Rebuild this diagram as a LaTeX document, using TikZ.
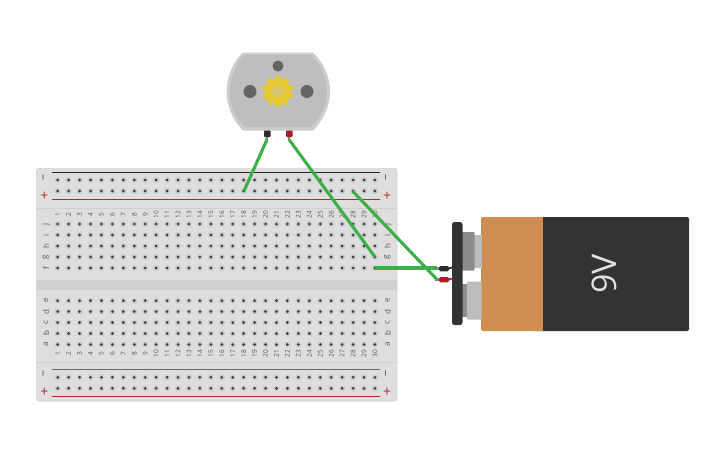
\documentclass[tikz,border=0pt]{standalone}
\usepackage{fontspec}
\setmainfont{Open Sans}
\definecolor{boardc}{HTML}{DEDEDE}
\definecolor{stripc}{HTML}{D0D0D0}
\definecolor{lineg}{HTML}{CFCFCF}
\definecolor{halo}{HTML}{CBCBCB}
\definecolor{holec}{HTML}{3A3A3A}
\definecolor{railred}{HTML}{B5262B}
\definecolor{wire}{HTML}{3DAF49}
\definecolor{motorout}{HTML}{CCCCCC}
\definecolor{motorin}{HTML}{BEBEBE}
\definecolor{motordot}{HTML}{646464}
\definecolor{gear}{HTML}{E9C92F}
\definecolor{hub}{HTML}{D7C56F}
\definecolor{batdark}{HTML}{333333}
\definecolor{batorange}{HTML}{CF8D52}
\definecolor{plugmid}{HTML}{8C8C8C}
\definecolor{pluglight}{HTML}{BCBCBC}
\definecolor{tipg}{HTML}{8A8A8A}
\definecolor{redpin}{HTML}{A81E22}
\definecolor{blackpin}{HTML}{2B2B2B}
\definecolor{labelc}{HTML}{555555}
\tikzset{
  lbl/.style={font=\fontsize{8}{8}\selectfont,text=labelc,rotate=90,inner sep=0pt},
  num/.style={font=\fontsize{6.5}{7}\selectfont,text=labelc,rotate=90,inner sep=0pt},
  plussign/.style={font=\fontsize{14}{14}\selectfont,text=railred,inner sep=0pt},
  minussign/.style={font=\fontsize{12}{12}\selectfont,text=labelc,rotate=90,inner sep=0pt},
  wirestyle/.style={draw=wire,line width=3.1pt},
  lead/.style={line width=1.6pt},
  hole/.pic={\fill[halo] (0,0) circle (3pt);\fill[holec] (0,0) circle (1.5pt);}
}
\begin{document}
\begin{tikzpicture}[x=1pt,y=-1pt]
\useasboundingbox[fill=white] (0,0) rectangle (725,453);
% ---------- breadboard
\fill[boardc,rounded corners=2pt,draw=lineg,line width=.5pt] (36.5,168.5) rectangle (397,401);
\fill[stripc] (36.5,280) rectangle (397,290);
\draw[lineg,line width=.8pt] (36.5,208) -- (397,208);
\draw[lineg,line width=.8pt] (36.5,362) -- (397,362);
\draw[black!85,line width=.9pt] (52,172) -- (380,172);
\draw[railred,line width=.9pt] (52,199.5) -- (380,199.5);
\draw[black!60,line width=1pt] (52,369.5) -- (380,369.5);
\draw[railred,line width=.9pt] (52,396) -- (380,396);
\foreach \c in {0,...,29}{
  \pgfmathsetmacro{\xx}{57.7+\c*10.94}
  \pgfmathtruncatemacro{\n}{\c+1}
  \foreach \yy in {180,191,224,235,246,257,268,300.7,311.6,322.5,333.5,344.5,377.3,388.3}
    \pic at (\xx,\yy) {hole};
  \node[num] at (\xx,214.5) {\n};
  \node[num] at (\xx,353.5) {\n};
}
\foreach \t/\yy in {j/224,i/235,h/246,g/257,f/268,e/300.7,d/311.6,c/322.5,b/333.5,a/344.5}{
  \node[lbl] at (46,\yy) {\t};
  \node[lbl] at (387.5,\yy) {\t};
}
\foreach \xx in {44.5,387}{
  \node[minussign] at (\xx,177.5) {–};
  \node[plussign] at (\xx,196.5) {+};
  \node[minussign] at (\xx,373) {–};
  \node[plussign] at (\xx,392) {+};
}
% ---------- connection points
\coordinate (h1) at (244,191);
\coordinate (h2) at (375,257);
\coordinate (h3) at (375,268);
\coordinate (h4) at (352.5,191);
\coordinate (m1) at (267,139.5);
\coordinate (m2) at (289,139.5);
\coordinate (b1) at (437,268);
\coordinate (b2) at (437,279.5);
% ---------- motor
\fill[tipg] (265.6,136) rectangle (268.4,140);
\fill[tipg] (287.6,136) rectangle (290.4,140);
\fill[blackpin,rounded corners=1pt] (264,130) rectangle (270.5,137);
\fill[redpin,rounded corners=1pt] (286,130) rectangle (292.5,137);
\fill[motorout] (243,52.5) -- (313,52.5) .. controls (323,62) and (330,76) .. (330,91.5)
  .. controls (330,107) and (323,120) .. (313,130.7) -- (243,130.7)
  .. controls (233,120) and (226.7,107) .. (226.7,91.5)
  .. controls (226.7,76) and (233,62) .. (243,52.5) -- cycle;
\fill[motorin] (245,55) -- (311,55) .. controls (321,65) and (327,78) .. (327,91.5)
  .. controls (327,105) and (321,117) .. (311,127) -- (245,127)
  .. controls (235,117) and (230,105) .. (230,91.5)
  .. controls (230,78) and (235,65) .. (245,55) -- cycle;
\node[circle,fill=motordot,minimum size=11pt,inner sep=0pt] (mt) at (278,66) {};
\node[circle,fill=motordot,minimum size=13pt,inner sep=0pt] (ml) at (250,91.5) {};
\node[circle,fill=motordot,minimum size=13pt,inner sep=0pt] (mr) at (307,91.5) {};
\foreach \a in {-90,-54,...,250}
  \fill[gear,draw=gear,line width=1pt,line join=round]
    ({278+10*cos(\a-16)},{91.5+10*sin(\a-16)}) -- ({278+15*cos(\a-8)},{91.5+15*sin(\a-8)}) --
    ({278+15*cos(\a+8)},{91.5+15*sin(\a+8)}) -- ({278+10*cos(\a+16)},{91.5+10*sin(\a+16)}) -- cycle;
\fill[gear] (278,91.5) circle (12pt);
\fill[hub] (278,91.5) circle (6.2pt);
% ---------- battery
\fill[batdark,rounded corners=2pt] (530,217) rectangle (689,331);
\fill[batorange,rounded corners=2pt] (481,217) rectangle (530,331);
\fill[batorange] (520,217) rectangle (543,331);
\fill[pluglight] (474,235) rectangle (482,268);
\fill[plugmid,rounded corners=.8pt] (461,232) rectangle (474.5,270.5);
\fill[plugmid] (461,284) rectangle (468,317);
\fill[pluglight,rounded corners=.8pt] (467,281.7) rectangle (481.5,319.5);
\fill[batdark,rounded corners=2.5pt] (452,222) rectangle (462.5,325);
\node[font=\fontsize{34}{34}\selectfont,text=black!12,rotate=90,inner sep=0pt] (nine) at (604.5,274) {9V};
% leads
\draw[blackpin,lead] (447,268.5) -- (453,267.5);
\draw[redpin,lead] (447,279.5) -- (453,278.5);
\fill[tipg] (435,267) rectangle (440,270);
\fill[tipg] (435,278) rectangle (440,281);
\fill[blackpin,rounded corners=1.5pt] (439,266) rectangle (449,271.3);
\fill[redpin,rounded corners=1.5pt] (439,277) rectangle (449,282.3);
% ---------- wires
\draw[wirestyle] (m1) -- (h1);
\draw[wirestyle] (m2) -- (h2);
\draw[wirestyle] (h3) -- (b1);
\draw[wirestyle] (h4) -- (b2);
\end{tikzpicture}
\end{document}
